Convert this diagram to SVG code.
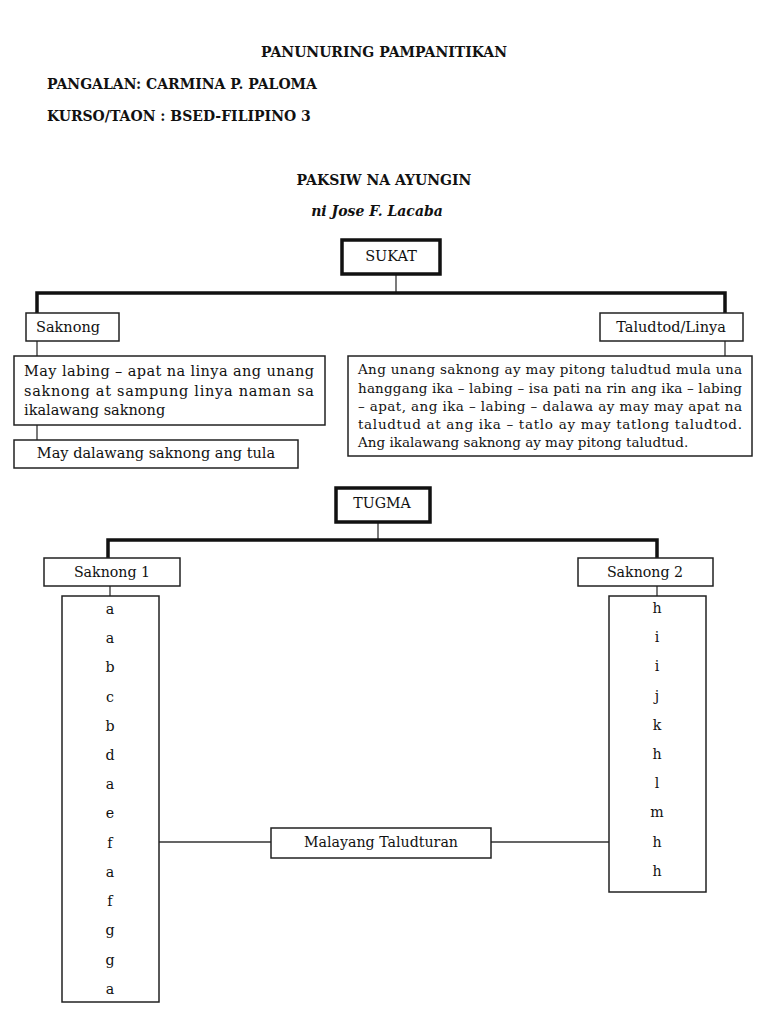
<svg xmlns="http://www.w3.org/2000/svg" width="768" height="1024" viewBox="0 0 768 1024">
<style>
text{font-family:"DejaVu Serif","Liberation Serif",serif;fill:#111}
.h{font-weight:bold;font-size:14px}
.box{fill:#fff;stroke:#222;stroke-width:1.5}
.tbox{fill:#fff;stroke:#111;stroke-width:3.5}
.thin{stroke:#333;stroke-width:1.3;fill:none}
.thick{stroke:#111;stroke-width:3.5;fill:none}
.t15{font-size:14.5px}
.t14{font-size:14.2px}
.t13{font-size:13.5px}
.c{text-anchor:middle}
</style>
<rect width="768" height="1024" fill="#fff"/>
<g id="header">
<text class="h c" x="384" y="57">PANUNURING PAMPANITIKAN</text>
<text class="h" x="47" y="89">PANGALAN: CARMINA P. PALOMA</text>
<text class="h" x="47" y="121">KURSO/TAON : BSED-FILIPINO 3</text>
<text class="h c" x="384" y="185">PAKSIW NA AYUNGIN</text>
<text class="h c" x="377" y="216" font-style="italic">ni Jose F. Lacaba</text>
</g>
<g id="connectors">
<path class="thin" d="M396 274V293"/>
<path class="thick" d="M37 313V293H725V313"/>
<path class="thin" d="M37 341V356M37 425V440M725 341V356"/>
<path class="thin" d="M378 522V540"/>
<path class="thick" d="M108 558V540H657V558"/>
<path class="thin" d="M110 586V596M657 586V596"/>
<path class="thin" d="M159 842H271M491 842H609"/>
</g>
<g id="sukat">
<rect class="tbox" x="342" y="240" width="98" height="34"/>
<text class="t15 c" x="391" y="261">SUKAT</text>
</g>
<g id="saknong">
<rect class="box" x="26" y="313" width="93" height="28"/>
<text class="t15" x="36" y="332">Saknong</text>
</g>
<g id="saknong-desc">
<rect class="box" x="14" y="356" width="311" height="69"/>
<text class="t15" x="24" y="376" textLength="290" lengthAdjust="spacing">May labing – apat na linya ang unang</text>
<text class="t15" x="24" y="396" textLength="290" lengthAdjust="spacing">saknong at sampung linya naman sa</text>
<text class="t15" x="24" y="415">ikalawang saknong</text>
</g>
<g id="saknong-tula">
<rect class="box" x="14" y="440" width="284" height="28"/>
<text class="t15 c" x="156" y="458">May dalawang saknong ang tula</text>
</g>
<g id="taludtod">
<rect class="box" x="600" y="313" width="143" height="28"/>
<text class="t15 c" x="671" y="332">Taludtod/Linya</text>
</g>
<g id="taludtod-desc">
<rect class="box" x="348" y="356" width="404" height="100"/>
<text class="t13" x="358" y="374" textLength="384" lengthAdjust="spacing">Ang unang saknong ay may pitong taludtud mula una</text>
<text class="t13" x="358" y="393" textLength="384" lengthAdjust="spacing">hanggang ika – labing – isa pati na rin ang ika – labing</text>
<text class="t13" x="358" y="411" textLength="384" lengthAdjust="spacing">– apat, ang ika – labing – dalawa ay may may apat na</text>
<text class="t13" x="358" y="429" textLength="384" lengthAdjust="spacing">taludtud at ang ika – tatlo ay may tatlong taludtod.</text>
<text class="t13" x="358" y="447">Ang ikalawang saknong ay may pitong taludtud.</text>
</g>
<g id="tugma">
<rect class="tbox" x="336" y="488" width="94" height="34"/>
<text class="t14 c" x="382" y="508">TUGMA</text>
</g>
<g id="saknong1">
<rect class="box" x="44" y="558" width="136" height="28"/>
<text class="t14 c" x="112" y="577">Saknong 1</text>
</g>
<g id="saknong2">
<rect class="box" x="578" y="558" width="135" height="28"/>
<text class="t14 c" x="645" y="577">Saknong 2</text>
</g>
<g id="col1">
<rect class="box" x="62" y="596" width="97" height="406"/>
<g class="t14 c">
<text x="110" y="614">a</text>
<text x="110" y="643">a</text>
<text x="110" y="672">b</text>
<text x="110" y="702">c</text>
<text x="110" y="731">b</text>
<text x="110" y="760">d</text>
<text x="110" y="789">a</text>
<text x="110" y="818">e</text>
<text x="110" y="848">f</text>
<text x="110" y="877">a</text>
<text x="110" y="906">f</text>
<text x="110" y="935">g</text>
<text x="110" y="965">g</text>
<text x="110" y="994">a</text>
</g>
</g>
<g id="col2">
<rect class="box" x="609" y="596" width="97" height="296"/>
<g class="t14 c">
<text x="657" y="613">h</text>
<text x="657" y="642">i</text>
<text x="657" y="671">i</text>
<text x="657" y="701">j</text>
<text x="657" y="730">k</text>
<text x="657" y="759">h</text>
<text x="657" y="788">l</text>
<text x="657" y="817">m</text>
<text x="657" y="847">h</text>
<text x="657" y="876">h</text>
</g>
</g>
<g id="malaya">
<rect class="box" x="271" y="828" width="220" height="30"/>
<text class="t14 c" x="381" y="847">Malayang Taludturan</text>
</g>
</svg>
